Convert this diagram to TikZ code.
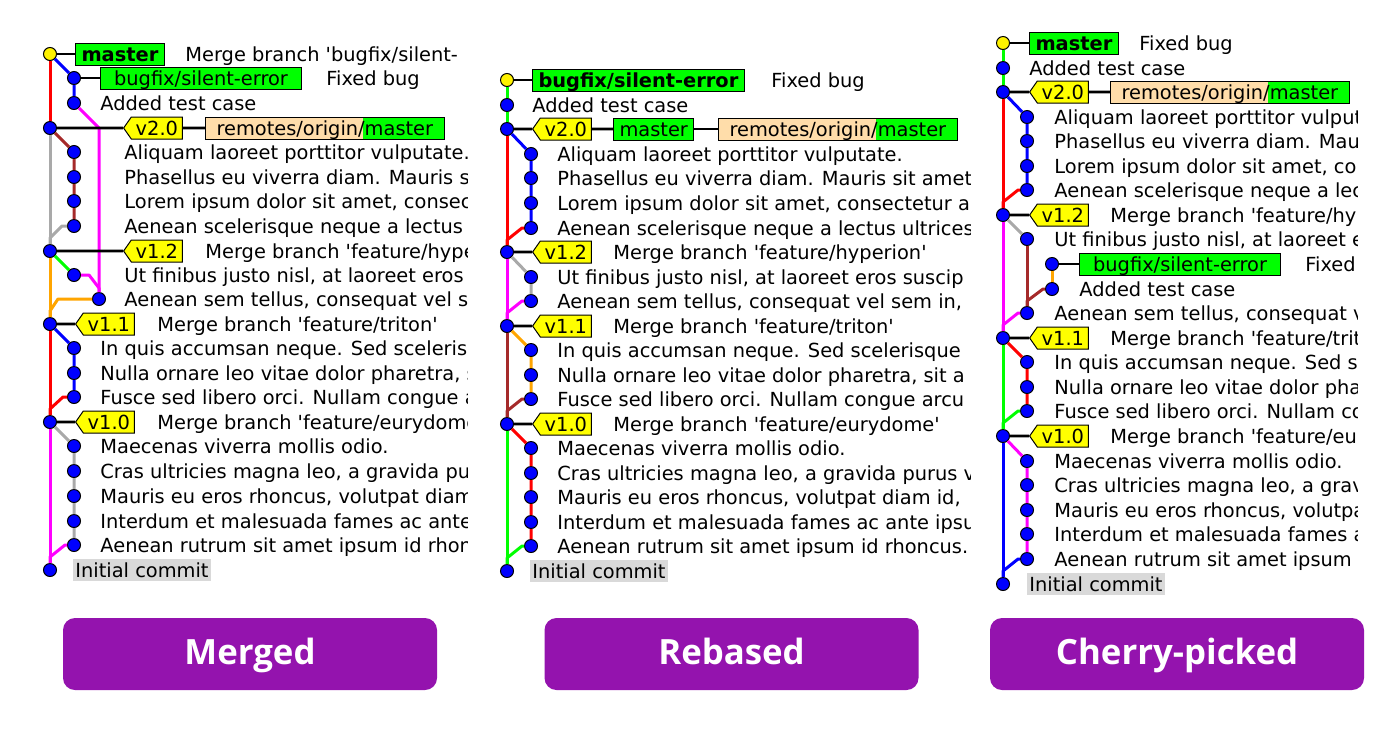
\documentclass[tikz,border=0pt]{standalone}
\usepackage{fontspec}
\setmainfont{DejaVu Sans}
\newfontfamily\btnfont{Open Sans}
\usetikzlibrary{calc,shapes.symbols}
\definecolor{gitgreen}{HTML}{00FF00}
\definecolor{gitred}{HTML}{FF0000}
\definecolor{gitblue}{HTML}{0000FF}
\definecolor{gitmagenta}{HTML}{FF00FF}
\definecolor{gitgrey}{HTML}{A9A9A9}
\definecolor{gitbrown}{HTML}{A52A2A}
\definecolor{gitorange}{HTML}{FFA500}
\definecolor{remotebg}{HTML}{FFDDAA}
\definecolor{tagbg}{HTML}{FFFF00}
\definecolor{rootbg}{HTML}{D9D9D9}
\definecolor{btnpurple}{HTML}{9413AE}
\newcommand\gitfont{\fontsize{9.7pt}{11pt}\selectfont}
\newcommand\btnsize{\btnfont\bfseries\fontsize{17.4pt}{20pt}\selectfont}
\def\q{\textquotesingle}
\def\msgBugfixMerge{Merge branch \q bugfix/silent-}
\def\msgFixed{Fixed bug}
\def\msgTest{Added test case}
\def\msgAliquam{Aliquam laoreet porttitor vulputate.}
\def\msgPhasellus{Phasellus eu viverra diam. Mauris sit amet}
\def\msgLorem{Lorem ipsum dolor sit amet, consectetur a}
\def\msgScelerisque{Aenean scelerisque neque a lectus ultrices}
\def\msgHyperion{Merge branch \q feature/hyperion\q}
\def\msgFinibus{Ut finibus justo nisl, at laoreet eros suscip}
\def\msgTellus{Aenean sem tellus, consequat vel sem in,}
\def\msgTriton{Merge branch \q feature/triton\q}
\def\msgQuis{In quis accumsan neque. Sed scelerisque}
\def\msgNulla{Nulla ornare leo vitae dolor pharetra, sit a}
\def\msgFusce{Fusce sed libero orci. Nullam congue arcu}
\def\msgEurydome{Merge branch \q feature/eurydome\q}
\def\msgMaecenas{Maecenas viverra mollis odio.}
\def\msgCras{Cras ultricies magna leo, a gravida purus v}
\def\msgMauris{Mauris eu eros rhoncus, volutpat diam id,}
\def\msgInterdum{Interdum et malesuada fames ac ante ipsum}
\def\msgRutrum{Aenean rutrum sit amet ipsum id rhoncus.}
\def\msgInitial{Initial commit}
\begin{document}
\begin{tikzpicture}[x=0.5pt, y=-0.5pt,
    every node/.style={font=\gitfont},
    commit/.style={circle, draw=black, line width=0.5pt, fill=gitblue, minimum size=6.5pt, inner sep=0pt},
    headcommit/.style={commit, fill=yellow},
    lane/.style={line width=1.5pt, line join=round},
    reflink/.style={line width=1.3pt},
    msg/.style={anchor=west, inner sep=0pt, text height=8pt, text depth=1pt},
    refbox/.style={anchor=west, draw, line width=0.5pt, fill=gitgreen, inner xsep=3pt, inner ysep=1pt, text height=8pt, text depth=1pt},
    headref/.style={refbox, font=\gitfont\bfseries},
    branchref/.style={refbox, minimum width=100.5pt},
    remotebox/.style={refbox, inner xsep=5.5pt, path picture={\fill[remotebg] (path picture bounding box.south west) rectangle ($(path picture bounding box.north west)!0.66!(path picture bounding box.north east)$);}},
    tagbox/.style={anchor=west, shape=signal, signal to=west, signal pointer angle=110, draw, line width=0.5pt, fill=tagbg, inner xsep=2.2pt, inner ysep=1pt, text height=8pt, text depth=1pt},
    rootmsg/.style={msg, fill=rootbg, inner xsep=1pt, inner ysep=1pt},
    modebtn/.style={fill=btnpurple, rounded corners=6pt, minimum width=187pt, minimum height=36pt, text=white, font=\btnsize, text height=13pt, text depth=3pt, inner ysep=0pt}
]
\useasboundingbox (0,0) rectangle (1400,729);

% merged
\begin{scope}
\clip (0,0) rectangle (467,600);
\node[headcommit] (a0) at (50,54) {};
\node[commit] (a1) at (74,78) {};
\node[commit] (a2) at (74,103) {};
\node[commit] (a3) at (50,128) {};
\node[commit] (a4) at (74,152) {};
\node[commit] (a5) at (74,177) {};
\node[commit] (a6) at (74,201) {};
\node[commit] (a7) at (74,226) {};
\node[commit] (a8) at (50,251) {};
\node[commit] (a9) at (74,275) {};
\node[commit] (a10) at (99,299) {};
\node[commit] (a11) at (50,324) {};
\node[commit] (a12) at (74,348) {};
\node[commit] (a13) at (74,373) {};
\node[commit] (a14) at (74,397) {};
\node[commit] (a15) at (50,422) {};
\node[commit] (a16) at (74,446) {};
\node[commit] (a17) at (74,471) {};
\node[commit] (a18) at (74,496) {};
\node[commit] (a19) at (74,521) {};
\node[commit] (a20) at (74,545) {};
\node[commit] (a21) at (50,570) {};

\draw[lane, gitred] (a0) -- (a3);
\draw[lane, gitblue] (a0) -- (a1) -- (a2);
\draw[lane, gitmagenta] (a2) -- ++(25,25) -- (a10);
\draw[lane, gitgrey] (a3) -- (a8);
\draw[lane, gitbrown] (a3) -- (a4) -- (a5) -- (a6) -- (a7);
\draw[lane, gitgrey] (a7) -- ++(-12,0) -- ++(-12,12) -- (a8);
\draw[lane, gitorange] (a8) -- (a11);
\draw[lane, gitgreen] (a8) -- (a9);
\draw[lane, gitmagenta] (a9) -- ++(15,0) -- ++(10,13) -- (a10);
\draw[lane, gitorange] (a10) -- ++(-41,0) -- ++(-8,12) -- (a11);
\draw[lane, gitred] (a11) -- (a15);
\draw[lane, gitblue] (a11) -- (a12) -- (a13) -- (a14);
\draw[lane, gitred] (a14) -- ++(-11,0) -- ++(-13,12) -- (a15);
\draw[lane, gitmagenta] (a15) -- (a21);
\draw[lane, gitgrey] (a15) -- (a16) -- (a17) -- (a18) -- (a19) -- (a20);
\draw[lane, gitmagenta] (a20) -- ++(-9,0) -- ++(-15,12) -- (a21);

\node[headref] (a0head) at (75,54) {master};
\node[msg] (a0msg) at (185,54) {\msgBugfixMerge};
\node[branchref] (a1head) at (100,78) {bugfix/silent-error};
\node[msg] (a1msg) at (326,78) {\msgFixed};
\node[msg] (a2msg) at (100,103) {\msgTest};
\node[tagbox] (a3tag) at (123,128) {v2.0};
\node[remotebox] (a3remote) at (205,128) {remotes/origin/master};
\node[msg] (a4msg) at (124,152) {\msgAliquam};
\node[msg] (a5msg) at (124,177) {\msgPhasellus};
\node[msg] (a6msg) at (124,201) {\msgLorem};
\node[msg] (a7msg) at (124,226) {\msgScelerisque};
\node[tagbox] (a8tag) at (123,251) {v1.2};
\node[msg] (a8msg) at (205,251) {\msgHyperion};
\node[msg] (a9msg) at (124,275) {\msgFinibus};
\node[msg] (a10msg) at (124,299) {\msgTellus};
\node[tagbox] (a11tag) at (75,324) {v1.1};
\node[msg] (a11msg) at (157,324) {\msgTriton};
\node[msg] (a12msg) at (100,348) {\msgQuis};
\node[msg] (a13msg) at (100,373) {\msgNulla};
\node[msg] (a14msg) at (100,397) {\msgFusce};
\node[tagbox] (a15tag) at (75,422) {v1.0};
\node[msg] (a15msg) at (157,422) {\msgEurydome};
\node[msg] (a16msg) at (100,446) {\msgMaecenas};
\node[msg] (a17msg) at (100,471) {\msgCras};
\node[msg] (a18msg) at (100,496) {\msgMauris};
\node[msg] (a19msg) at (100,521) {\msgInterdum};
\node[msg] (a20msg) at (100,545) {\msgRutrum};
\node[rootmsg] (a21msg) at (73,570) {\msgInitial};

\draw[reflink] (a0) -- (a0head);
\draw[reflink] (a1) -- (a1head);
\draw[reflink] (a3) -- (a3tag);
\draw[reflink] (a3tag) -- (a3remote);
\draw[reflink] (a8) -- (a8tag);
\draw[reflink] (a11) -- (a11tag);
\draw[reflink] (a15) -- (a15tag);
\end{scope}

% rebased
\begin{scope}
\clip (480,0) rectangle (970,600);
\node[headcommit] (b0) at (507,80) {};
\node[commit] (b1) at (507,105) {};
\node[commit] (b2) at (507,129) {};
\node[commit] (b3) at (531,154) {};
\node[commit] (b4) at (531,178) {};
\node[commit] (b5) at (531,203) {};
\node[commit] (b6) at (531,228) {};
\node[commit] (b7) at (507,252) {};
\node[commit] (b8) at (531,277) {};
\node[commit] (b9) at (531,301) {};
\node[commit] (b10) at (507,326) {};
\node[commit] (b11) at (531,350) {};
\node[commit] (b12) at (531,375) {};
\node[commit] (b13) at (531,399) {};
\node[commit] (b14) at (507,424) {};
\node[commit] (b15) at (531,448) {};
\node[commit] (b16) at (531,473) {};
\node[commit] (b17) at (531,497) {};
\node[commit] (b18) at (531,522) {};
\node[commit] (b19) at (531,546) {};
\node[commit] (b20) at (507,571) {};

\draw[lane, gitgreen] (b0) -- (b1) -- (b2);
\draw[lane, gitred] (b2) -- (b7);
\draw[lane, gitblue] (b2) -- (b3) -- (b4) -- (b5) -- (b6);
\draw[lane, gitred] (b6) -- ++(-9,0) -- ++(-15,12) -- (b7);
\draw[lane, gitmagenta] (b7) -- (b10);
\draw[lane, gitgrey] (b7) -- (b8) -- (b9);
\draw[lane, gitmagenta] (b9) -- ++(-9,0) -- ++(-15,12) -- (b10);
\draw[lane, gitbrown] (b10) -- (b14);
\draw[lane, gitorange] (b10) -- (b11) -- (b12) -- (b13);
\draw[lane, gitbrown] (b13) -- ++(-9,0) -- ++(-15,12) -- (b14);
\draw[lane, gitgreen] (b14) -- (b20);
\draw[lane, gitred] (b14) -- (b15) -- (b16) -- (b17) -- (b18) -- (b19);
\draw[lane, gitgreen] (b19) -- ++(-9,0) -- ++(-15,12) -- (b20);

\node[headref] (b0head) at (532,80) {bugfix/silent-error};
\node[msg] (b0msg) at (771,80) {\msgFixed};
\node[msg] (b1msg) at (532,105) {\msgTest};
\node[tagbox] (b2tag) at (532,129) {v2.0};
\node[refbox] (b2head) at (613,129) {master};
\node[remotebox] (b2remote) at (718,129) {remotes/origin/master};
\node[msg] (b3msg) at (557,154) {\msgAliquam};
\node[msg] (b4msg) at (557,178) {\msgPhasellus};
\node[msg] (b5msg) at (557,203) {\msgLorem};
\node[msg] (b6msg) at (557,228) {\msgScelerisque};
\node[tagbox] (b7tag) at (532,252) {v1.2};
\node[msg] (b7msg) at (613,252) {\msgHyperion};
\node[msg] (b8msg) at (557,277) {\msgFinibus};
\node[msg] (b9msg) at (557,301) {\msgTellus};
\node[tagbox] (b10tag) at (532,326) {v1.1};
\node[msg] (b10msg) at (613,326) {\msgTriton};
\node[msg] (b11msg) at (557,350) {\msgQuis};
\node[msg] (b12msg) at (557,375) {\msgNulla};
\node[msg] (b13msg) at (557,399) {\msgFusce};
\node[tagbox] (b14tag) at (532,424) {v1.0};
\node[msg] (b14msg) at (613,424) {\msgEurydome};
\node[msg] (b15msg) at (557,448) {\msgMaecenas};
\node[msg] (b16msg) at (557,473) {\msgCras};
\node[msg] (b17msg) at (557,497) {\msgMauris};
\node[msg] (b18msg) at (557,522) {\msgInterdum};
\node[msg] (b19msg) at (557,546) {\msgRutrum};
\node[rootmsg] (b20msg) at (530,571) {\msgInitial};

\draw[reflink] (b0) -- (b0head);
\draw[reflink] (b2) -- (b2tag);
\draw[reflink] (b2tag) -- (b2head);
\draw[reflink] (b2head) -- (b2remote);
\draw[reflink] (b7) -- (b7tag);
\draw[reflink] (b10) -- (b10tag);
\draw[reflink] (b14) -- (b14tag);
\end{scope}

% cherry-picked
\begin{scope}
\clip (980,0) rectangle (1357,600);
\node[headcommit] (c0) at (1003,43) {};
\node[commit] (c1) at (1003,68) {};
\node[commit] (c2) at (1003,92) {};
\node[commit] (c3) at (1027,117) {};
\node[commit] (c4) at (1027,141) {};
\node[commit] (c5) at (1027,166) {};
\node[commit] (c6) at (1027,190) {};
\node[commit] (c7) at (1003,215) {};
\node[commit] (c8) at (1027,239) {};
\node[commit] (c9) at (1052,264) {};
\node[commit] (c10) at (1052,289) {};
\node[commit] (c11) at (1027,313) {};
\node[commit] (c12) at (1003,338) {};
\node[commit] (c13) at (1027,362) {};
\node[commit] (c14) at (1027,387) {};
\node[commit] (c15) at (1027,411) {};
\node[commit] (c16) at (1003,436) {};
\node[commit] (c17) at (1027,461) {};
\node[commit] (c18) at (1027,485) {};
\node[commit] (c19) at (1027,510) {};
\node[commit] (c20) at (1027,534) {};
\node[commit] (c21) at (1027,559) {};
\node[commit] (c22) at (1003,584) {};

\draw[lane, gitgreen] (c0) -- (c1) -- (c2);
\draw[lane, gitred] (c2) -- (c7);
\draw[lane, gitblue] (c2) -- (c3) -- (c4) -- (c5) -- (c6);
\draw[lane, gitred] (c6) -- ++(-9,0) -- ++(-15,12) -- (c7);
\draw[lane, gitmagenta] (c7) -- (c12);
\draw[lane, gitgrey] (c7) -- (c8);
\draw[lane, gitbrown] (c8) -- (c11);
\draw[lane, gitorange] (c9) -- (c10);
\draw[lane, gitbrown] (c10) -- ++(-9,0) -- ++(-16,12) -- (c11);
\draw[lane, gitmagenta] (c11) -- ++(-9,0) -- ++(-15,12) -- (c12);
\draw[lane, gitgreen] (c12) -- (c16);
\draw[lane, gitred] (c12) -- (c13) -- (c14) -- (c15);
\draw[lane, gitgreen] (c15) -- ++(-9,0) -- ++(-15,12) -- (c16);
\draw[lane, gitblue] (c16) -- (c22);
\draw[lane, gitmagenta] (c16) -- (c17) -- (c18) -- (c19) -- (c20) -- (c21);
\draw[lane, gitblue] (c21) -- ++(-9,0) -- ++(-15,12) -- (c22);

\node[headref] (c0head) at (1029,43) {master};
\node[msg] (c0msg) at (1139,43) {\msgFixed};
\node[msg] (c1msg) at (1029,68) {\msgTest};
\node[tagbox] (c2tag) at (1029,92) {v2.0};
\node[remotebox] (c2remote) at (1110,92) {remotes/origin/master};
\node[msg] (c3msg) at (1054,117) {\msgAliquam};
\node[msg] (c4msg) at (1054,141) {\msgPhasellus};
\node[msg] (c5msg) at (1054,166) {\msgLorem};
\node[msg] (c6msg) at (1054,190) {\msgScelerisque};
\node[tagbox] (c7tag) at (1029,215) {v1.2};
\node[msg] (c7msg) at (1110,215) {\msgHyperion};
\node[msg] (c8msg) at (1054,239) {\msgFinibus};
\node[branchref] (c9head) at (1079,264) {bugfix/silent-error};
\node[msg] (c9msg) at (1305,264) {\msgFixed};
\node[msg] (c10msg) at (1079,289) {\msgTest};
\node[msg] (c11msg) at (1054,313) {\msgTellus};
\node[tagbox] (c12tag) at (1029,338) {v1.1};
\node[msg] (c12msg) at (1110,338) {\msgTriton};
\node[msg] (c13msg) at (1054,362) {\msgQuis};
\node[msg] (c14msg) at (1054,387) {\msgNulla};
\node[msg] (c15msg) at (1054,411) {\msgFusce};
\node[tagbox] (c16tag) at (1029,436) {v1.0};
\node[msg] (c16msg) at (1110,436) {\msgEurydome};
\node[msg] (c17msg) at (1054,461) {\msgMaecenas};
\node[msg] (c18msg) at (1054,485) {\msgCras};
\node[msg] (c19msg) at (1054,510) {\msgMauris};
\node[msg] (c20msg) at (1054,534) {\msgInterdum};
\node[msg] (c21msg) at (1054,559) {\msgRutrum};
\node[rootmsg] (c22msg) at (1027,584) {\msgInitial};

\draw[reflink] (c0) -- (c0head);
\draw[reflink] (c2) -- (c2tag);
\draw[reflink] (c2tag) -- (c2remote);
\draw[reflink] (c7) -- (c7tag);
\draw[reflink] (c9) -- (c9head);
\draw[reflink] (c12) -- (c12tag);
\draw[reflink] (c16) -- (c16tag);
\end{scope}

% labels under the panels
\node[modebtn] (merged) at (250,654) {Merged};
\node[modebtn] (rebased) at (731.5,654) {Rebased};
\node[modebtn] (picked) at (1177,654) {Cherry-picked};
\end{tikzpicture}
\end{document}
